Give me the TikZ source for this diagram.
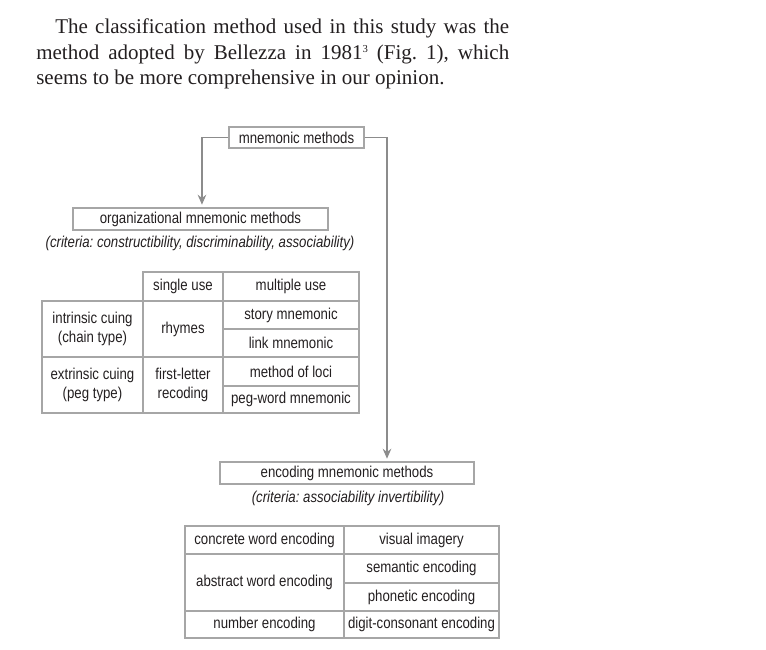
\documentclass[tikz,border=0pt]{standalone}
\usepackage{fontspec}
\setmainfont{Liberation Serif}
\newfontfamily\dgfont[FakeStretch=0.84]{Liberation Sans}
\usetikzlibrary{arrows.meta,calc}
\definecolor{linegray}{HTML}{A6A6A6}
\definecolor{arrgray}{HTML}{8C8C8C}
\definecolor{txt}{HTML}{231F20}
\begin{document}
\frenchspacing
\begin{tikzpicture}[x=0.75pt,y=-0.75pt,
  dg/.style={font=\dgfont\fontsize{11.8}{14.25}\selectfont, text=txt},
  sz/.style 2 args={minimum width=#1*0.75pt, minimum height=#2*0.75pt},
  box/.style={dg, draw=linegray, line width=1pt, inner sep=0pt},
  cell/.style={dg, draw=linegray, line width=1.1pt, inner sep=0pt, align=center},
  crit/.style={text=txt, inner sep=0pt, font=\dgfont\itshape\fontsize{11.8}{14}\selectfont},
  arr/.style={draw=arrgray, line width=0.8pt, -{Stealth[length=7.5pt,width=6.5pt,inset=2.5pt]}, shorten >=2pt},
  body/.style={font=\fontsize{15.75}{19}\selectfont, text=txt, inner sep=0pt, anchor=base west}]
\useasboundingbox (0,0) rectangle (766,649);

% paragraph
\node[body] (p1) at (55,34) {\makebox[340.5pt][s]{The classification method used in this study was the}};
\node[body] (p2) at (36,59.5) {\makebox[354.75pt][s]{method adopted by Bellezza in 1981\raisebox{0.75ex}{\fontsize{8}{8}\selectfont 3} (Fig. 1), which}};
\node[body] (p3) at (36,85) {seems to be more comprehensive in our opinion.};

% top boxes
\node[box, sz={135}{21}] (mm) at (296.5,137.5) {mnemonic methods};
\node[box, sz={255}{22}] (org) at (200.5,219) {organizational mnemonic methods};
\node[crit] (orgc) at (200,243) {(criteria: constructibility, discriminability, associability)};
\node[box, sz={254}{22}] (enc) at (347,473) {encoding mnemonic methods};
\node[crit] (encc) at (348,498) {(criteria: associability invertibility)};

\draw[arr] (mm.west) -| ([xshift=1.1pt]org.north);
\draw[arr] (mm.east) -| ([xshift=30pt]enc.north);

% table 1
\node[cell, sz={80}{29}]  (h1) at (183,286.5) {single use};
\node[cell, sz={136}{29}] (h2) at (291,286.5) {multiple use};
\node[cell, sz={101}{56}] (l1) at (92.5,329) {intrinsic cuing\\(chain type)};
\node[cell, sz={80}{56}]  (m1) at (183,329) {rhymes};
\node[cell, sz={136}{28}] (r1) at (291,315) {story mnemonic};
\node[cell, sz={136}{28}] (r2) at (291,343) {link mnemonic};
\node[cell, sz={101}{56}] (l2) at (92.5,385) {extrinsic cuing\\(peg type)};
\node[cell, sz={80}{56}]  (m2) at (183,385) {first-letter\\recoding};
\node[cell, sz={136}{29}] (r3) at (291,371.5) {method of loci};
\node[cell, sz={136}{27}] (r4) at (291,399.5) {peg-word mnemonic};

% table 2
\node[cell, sz={159}{28}] (a1) at (264.5,540) {concrete word encoding};
\node[cell, sz={155}{28}] (b1) at (421.5,540) {visual imagery};
\node[cell, sz={159}{57}] (a2) at (264.5,582.5) {abstract word encoding};
\node[cell, sz={155}{29}] (b2) at (421.5,568.5) {semantic encoding};
\node[cell, sz={155}{28}] (b3) at (421.5,597) {phonetic encoding};
\node[cell, sz={159}{27}] (a3) at (264.5,624.5) {number encoding};
\node[cell, sz={155}{27}] (b4) at (421.5,624.5) {digit-consonant encoding};
\end{tikzpicture}
\end{document}
